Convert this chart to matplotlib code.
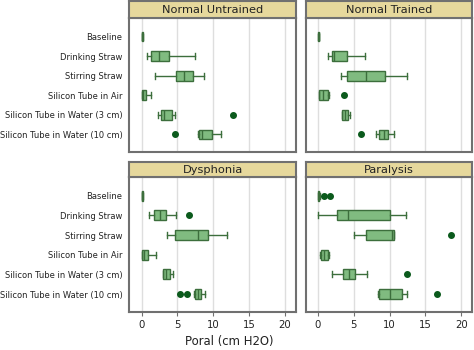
import matplotlib
matplotlib.use("Agg")
import matplotlib.pyplot as plt

categories = ["Baseline", "Drinking Straw", "Stirring Straw", "Silicon Tube in Air",
              "Silicon Tube in Water (3 cm)", "Silicon Tube in Water (10 cm)"]
panel_titles = ["Normal Untrained", "Normal Trained", "Dysphonia", "Paralysis"]
xticks = [0, 5, 10, 15, 20]

# five-number summaries per category: (whisker low, q1, median, q3, whisker high)
normal_untrained = [(0.05, 0.08, 0.12, 0.17, 0.2),
                    (0.79, 1.25, 2.46, 3.81, 7.4),
                    (1.9, 4.84, 5.91, 7.17, 8.66),
                    (0.05, 0.1, 0.23, 0.56, 1.34),
                    (2.28, 2.7, 3.07, 4.23, 4.65),
                    (7.9, 8.05, 8.42, 9.86, 11.03)]
normal_untrained_out = [[], [], [], [], [12.78], [4.7]]

normal_trained = [(0.02, 0.05, 0.1, 0.15, 0.2),
                  (1.44, 2.0, 2.3, 4.07, 6.53),
                  (3.19, 4.03, 6.67, 9.4, 12.4),
                  (0.14, 0.19, 0.69, 1.34, 1.53),
                  (3.29, 3.38, 3.7, 4.17, 4.49),
                  (8.1, 8.47, 9.17, 9.77, 10.65)]
normal_trained_out = [[], [], [], [3.61], [], [5.97]]

dysphonia = [(0.02, 0.05, 0.1, 0.15, 0.2),
             (0.98, 1.72, 2.6, 3.35, 4.74),
             (3.58, 4.7, 7.86, 9.3, 11.86),
             (0.0, 0.05, 0.33, 0.84, 2.0),
             (2.93, 3.03, 3.4, 3.96, 4.42),
             (7.3, 7.5, 7.86, 8.24, 8.8)]
dysphonia_out = [[], [6.56], [], [], [], [5.35, 6.28]]

paralysis = [(0.0, 0.05, 0.1, 0.18, 0.23),
             (0.0, 2.69, 4.12, 10.05, 12.22),
             (5.05, 6.67, 10.3, 10.56, 10.56),
             (0.28, 0.42, 0.88, 1.39, 1.57),
             (1.99, 3.52, 4.35, 5.14, 6.9),
             (8.33, 8.56, 10.0, 11.71, 12.36)]
paralysis_out = [[0.88, 1.62], [], [18.52], [], [12.36], [16.62]]

panels = [(normal_untrained, normal_untrained_out),
          (normal_trained, normal_trained_out),
          (dysphonia, dysphonia_out),
          (paralysis, paralysis_out)]

box_fill = "#80bb80"
box_edge = "#3c6e3c"
dot_color = "#0b5a1c"
frame_col = "#707070"
header_col = "#e6d89c"

fig = plt.figure(figsize=(4.74, 3.5), dpi=100)
W, H = 474.0, 350.0

# pixel boxes: (left, right) of columns, (top, bottom, header top) of rows
cols = [(129.3, 296.0), (305.7, 472.3)]
rows = [(18.0, 152.0, 1.0), (177.0, 311.7, 161.5)]

for i, (stats_list, outs) in enumerate(panels):
    r, c = divmod(i, 2)
    x0, x1 = cols[c]
    y0, y1, hy = rows[r]
    ax = fig.add_axes([x0 / W, 1 - y1 / H, (x1 - x0) / W, (y1 - y0) / H])
    hax = fig.add_axes([x0 / W, 1 - y0 / H, (x1 - x0) / W, (y0 - hy) / H])

    stats = []
    for (lo, q1, med, q3, hi), fl in zip(stats_list, outs):
        stats.append(dict(whislo=lo, q1=q1, med=med, q3=q3, whishi=hi, fliers=fl))

    ax.bxp(stats, positions=range(len(categories)), widths=0.5, capwidths=0.3,
           orientation="horizontal", patch_artist=True,
           boxprops=dict(facecolor=box_fill, edgecolor=box_edge, linewidth=1.0),
           medianprops=dict(color=box_edge, linewidth=1.0),
           whiskerprops=dict(color=box_edge, linewidth=1.0),
           capprops=dict(color=box_edge, linewidth=1.0),
           flierprops=dict(marker="o", markerfacecolor=dot_color, markeredgecolor=dot_color,
                           markersize=4, linestyle="none"))

    ax.set_xlim(-1.72, 21.55)
    ax.set_ylim(5.9, -0.95)
    ax.set_xticks(xticks)
    ax.set_yticks(range(len(categories)))
    ax.grid(axis="x", color="#dedede", linewidth=1.0)
    ax.set_axisbelow(True)
    for sp in ax.spines.values():
        sp.set_color(frame_col)
        sp.set_linewidth(1.5)
    ax.tick_params(axis="y", length=0, labelsize=6.0, colors="#222222", pad=5)
    ax.tick_params(axis="x", length=3, color=frame_col, labelsize=7.3, labelcolor="#222222", pad=3)
    if c == 1:
        ax.set_yticklabels([])
    else:
        ax.set_yticklabels(categories)
    if r == 0:
        ax.tick_params(axis="x", length=0, labelbottom=False)

    hax.set_facecolor(header_col)
    hax.set_xticks([])
    hax.set_yticks([])
    for sp in hax.spines.values():
        sp.set_color(frame_col)
        sp.set_linewidth(1.5)
    hax.text(0.5, 0.45, panel_titles[i], ha="center", va="center", fontsize=8.2,
             color="#222222", transform=hax.transAxes)

fig.text(229.5 / W, 1 - 341 / H, "Poral (cm H2O)", ha="center", va="center",
         fontsize=8.4, color="#222222")

fig.savefig("out.png", dpi=100)
